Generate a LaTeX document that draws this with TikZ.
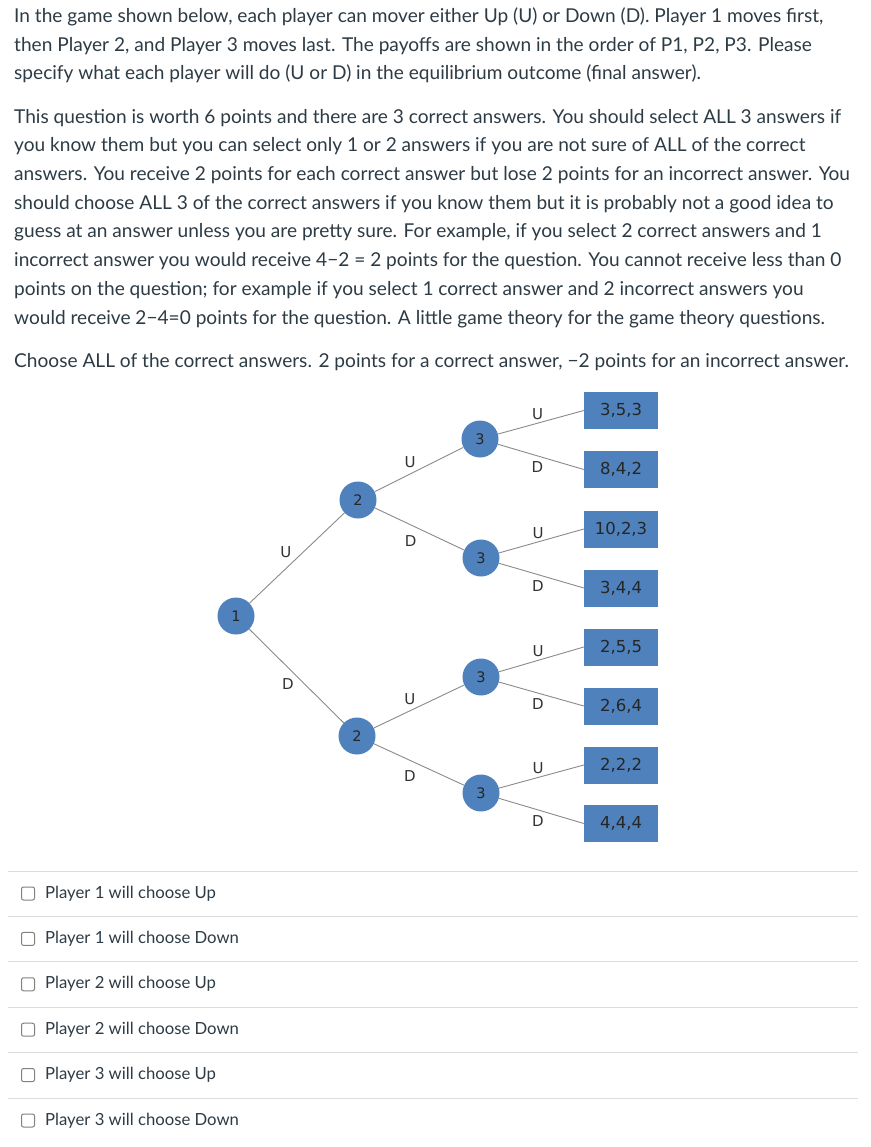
\documentclass[tikz,border=0pt]{standalone}
\usepackage{fontspec}
\setmainfont{Lato}
\newfontfamily\treefont{DejaVu Sans}
\usetikzlibrary{positioning}

\definecolor{bodytext}{HTML}{2D3B45}
\definecolor{nodeblue}{HTML}{4F81BD}
\definecolor{rulegray}{HTML}{DADDE0}
\definecolor{branchgray}{HTML}{8A8A8A}

\begin{document}
\begin{tikzpicture}[
    x=1pt, y=-1pt,
    para/.style={anchor=base west, align=left, inner sep=0pt, text=bodytext, font=\fontsize{19.1}{28.7}\selectfont},
    player/.style={circle, fill=nodeblue, minimum size=37pt, inner sep=0pt, font=\treefont\fontsize{14.5}{15}\selectfont, text=black!85},
    payoff/.style={rectangle, fill=nodeblue, minimum width=74pt, minimum height=37pt, inner sep=0pt, font=\treefont\fontsize{16.5}{17}\selectfont, text=black!85},
    branch/.style={draw=branchgray, line width=0.9pt},
    lab/.style={inner sep=1pt, font=\treefont\fontsize{15}{15}\selectfont, text=black!80},
    tickbox/.style={draw=gray, rounded corners=2pt, minimum size=13pt, inner sep=0pt, line width=1pt},
    choice/.style={anchor=base west, inner sep=0pt, text=bodytext, font=\fontsize{16.7}{20}\selectfont},
    sep/.style={draw=rulegray, line width=1pt},
  ]
    \fill[white] (0,0) rectangle (870,1147);
    \useasboundingbox (0,0) rectangle (870,1147);

    % question text
    \node[para] (intro) at (14,80) {In the game shown below, each player can mover either Up (U) or Down (D). Player 1 moves first,\\
      then Player 2, and Player 3 moves last. The payoffs are shown in the order of P1, P2, P3. Please\\
      specify what each player will do (U or D) in the equilibrium outcome (final answer).};
    \node[para] (rules) at (14,324) {This question is worth 6 points and there are 3 correct answers. You should select ALL 3 answers if\\
      you know them but you can select only 1 or 2 answers if you are not sure of ALL of the correct\\
      answers. You receive 2 points for each correct answer but lose 2 points for an incorrect answer. You\\
      should choose ALL 3 of the correct answers if you know them but it is probably not a good idea to\\
      guess at an answer unless you are pretty sure. For example, if you select 2 correct answers and 1\\
      incorrect answer you would receive 4−2 = 2 points for the question. You cannot receive less than 0\\
      points on the question; for example if you select 1 correct answer and 2 incorrect answers you\\
      would receive 2−4=0 points for the question. A little game theory for the game theory questions.};
    \node[para] (choose) at (14,367) {Choose ALL of the correct answers. 2 points for a correct answer, −2 points for an incorrect answer.};

    % game tree
    \node[player] (p1) at (236,616) {1};
    \node[player] (p2a) at (358,500) {2};
    \node[player] (p2b) at (357,736) {2};
    \node[player] (p3a) at (480,439) {3};
    \node[player] (p3b) at (481,558) {3};
    \node[player] (p3c) at (481,677) {3};
    \node[player] (p3d) at (481,793) {3};

    \node[payoff] (o1) at (621,410.5) {3,5,3};
    \node[payoff] (o2) at (621,469.5) {8,4,2};
    \node[payoff] (o3) at (621,529) {10,2,3};
    \node[payoff] (o4) at (621,588) {3,4,4};
    \node[payoff] (o5) at (621,647) {2,5,5};
    \node[payoff] (o6) at (621,706) {2,6,4};
    \node[payoff] (o7) at (621,765) {2,2,2};
    \node[payoff] (o8) at (621,823.5) {4,4,4};

    \draw[branch] (p1) -- node[lab, pos=.56, left=10pt] {U} (p2a);
    \draw[branch] (p1) -- node[lab, pos=.59, left=10pt] {D} (p2b);
    \draw[branch] (p2a) -- node[lab, pos=.40, above=4.5pt] {U} (p3a);
    \draw[branch] (p2a) -- node[lab, pos=.40, below=9pt] {D} (p3b);
    \draw[branch] (p2b) -- node[lab, pos=.40, above=4.5pt] {U} (p3c);
    \draw[branch] (p2b) -- node[lab, pos=.40, below=9pt] {D} (p3d);

    \foreach \from/\up/\down in {p3a/o1/o2, p3b/o3/o4, p3c/o5/o6, p3d/o7/o8} {
      \draw[branch] (\from) -- node[lab, pos=.46, above=2pt] {U} (\up.west);
      \draw[branch] (\from) -- node[lab, pos=.46, below=4pt] {D} (\down.west);
    }

    % answer choices
    \foreach \txt [count=\i from 0] in {Player 1 will choose Up, Player 1 will choose Down,
        Player 2 will choose Up, Player 2 will choose Down,
        Player 3 will choose Up, Player 3 will choose Down} {
      \draw[sep] (8,871+45.4*\i) -- (858,871+45.4*\i);
      \node[tickbox] (box\i) at (28,893.5+45.4*\i) {};
      \node[choice] (opt\i) at (45,898+45.4*\i) {\txt};
    }
\end{tikzpicture}
\end{document}
